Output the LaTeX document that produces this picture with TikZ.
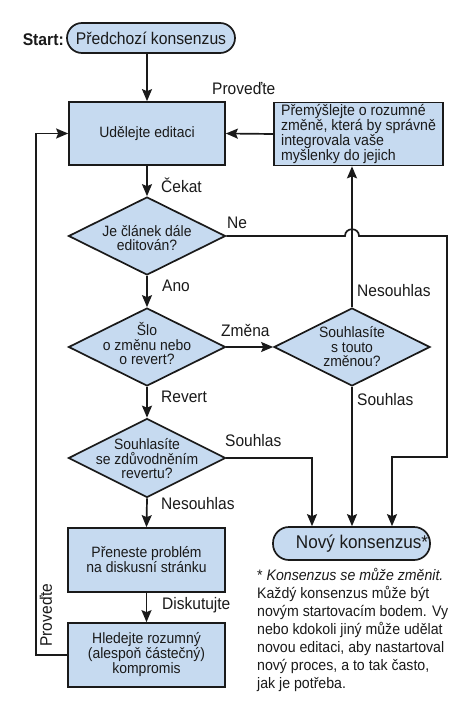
\documentclass[tikz,border=0pt]{standalone}
\usepackage{fontspec}
\setmainfont{Liberation Sans}[FakeStretch=0.93]
\usetikzlibrary{arrows.meta,shapes.geometric}
\definecolor{boxfill}{HTML}{C6DAF0}
\definecolor{ink}{HTML}{1A1A1A}
\begin{document}
\begin{tikzpicture}[x=1pt,y=-1pt,
  every node/.style={text=ink},
  box/.style={draw=ink,fill=boxfill,line width=1.7pt,inner sep=0pt,align=center,font=\fontsize{15}{15}\selectfont},
  dia/.style={draw=ink,fill=boxfill,line width=1.7pt,shape=diamond,inner sep=0pt},
  dtext/.style={align=center,font=\fontsize{15}{14.5}\selectfont,inner sep=0pt},
  lbl/.style={anchor=west,inner sep=0pt,font=\fontsize{16.7}{17}\selectfont},
  fn/.style={anchor=base west,inner sep=0pt,font=\fontsize{15.2}{18}\selectfont},
  conn/.style={draw=ink,line width=1.7pt,-{Stealth[length=12pt,width=10pt,inset=2pt]}},
  wire/.style={draw=ink,line width=1.7pt}]
\useasboundingbox[fill=white] (0,0) rectangle (474,711);

% nodes
\node[box,minimum width=168pt,minimum height=30pt,rounded corners=15pt,font=\fontsize{16.9}{17}\selectfont] (start) at (151,38) {Předchozí konsenzus};
\node[anchor=east,inner sep=0pt,font=\bfseries\fontsize{16.9}{17}\selectfont] (startlbl) at (64,40) {Start:};
\node[box,minimum width=156pt,minimum height=63pt] (edit) at (147,133.5) {Udělejte editaci};
\node[box,minimum width=169pt,minimum height=63pt,align=left,font=\fontsize{15.2}{14}\selectfont] (think) at (358.5,134) {Přemýšlejte o rozumné\\změně, která by správně\\integrovala vaše\\myšlenky do jejich};

\node[dia,minimum width=157pt,minimum height=78pt] (d1) at (147,236) {};
\node[dtext] (d1t) at (147,238) {Je článek dále\\editován?};
\node[dia,minimum width=157pt,minimum height=78pt] (d2) at (147,347) {};
\node[dtext] (d2t) at (147,344) {Šlo\\o změnu nebo\\o revert?};
\node[dia,minimum width=156pt,minimum height=78pt] (d3) at (352,347) {};
\node[dtext] (d3t) at (352,347) {Souhlasíte\\s touto\\změnou?};
\node[dia,minimum width=157pt,minimum height=79pt] (d4) at (147,458) {};
\node[dtext] (d4t) at (147,459) {Souhlasíte\\se zdůvodněním\\revertu?};

\node[box,minimum width=157pt,minimum height=64pt] (move) at (146.5,560) {Přeneste problém\\na diskusní stránku};
\node[box,minimum width=157pt,minimum height=64pt] (comp) at (146.5,655) {Hledejte rozumný\\(alespoň částečný)\\kompromis};

\node[box,minimum width=157pt,minimum height=33pt,rounded corners=16pt] (new) at (351.5,543.5) {};
\node[inner sep=0pt,font=\fontsize{18.4}{19}\selectfont] (newt) at (362,544) {Nový konsenzus*};

% labels
\node[lbl] (l1) at (212,89) {Proveďte};
\node[lbl] (l2) at (161,185) {Čekat};
\node[lbl] (l3) at (227,223) {Ne};
\node[lbl] (l4) at (162,286) {Ano};
\node[lbl] (l5) at (221,330) {Změna};
\node[lbl] (l6) at (357,291) {Nesouhlas};
\node[lbl] (l7) at (161,397) {Revert};
\node[lbl] (l8) at (225,441) {Souhlas};
\node[lbl] (l9) at (357,400) {Souhlas};
\node[lbl] (l10) at (161,504) {Nesouhlas};
\node[lbl] (l11) at (162,605) {Diskutujte};
\node[lbl,anchor=center,rotate=90] (l12) at (46,615) {Proveďte};

% footnote
\node[fn] (fn1) at (257,580) {* \textit{Konsenzus se může změnit.}};
\node[fn] (fn2) at (257,598) {Každý konsenzus může být};
\node[fn] (fn3) at (257,616) {novým startovacím bodem. Vy};
\node[fn] (fn4) at (257,634) {nebo kdokoli jiný může udělat};
\node[fn] (fn5) at (257,652) {novou editaci, aby nastartoval};
\node[fn] (fn6) at (257,670) {nový proces, a to tak často,};
\node[fn] (fn7) at (257,688) {jak je potřeba.};

% helper coordinates
\coordinate (loopx) at (36,0);
\coordinate (souhlx) at (312,0);
\coordinate (hopa) at (345,236);
\coordinate (hopb) at (359,236);
\coordinate (ner) at (447,236);
\coordinate (nebr) at (447,457);
\coordinate (nebl) at (392,457);

% connectors
\draw[conn] (start.south -| edit.north) -- (edit.north);
\draw[conn] (think.west) -- (edit.east);
\draw[conn] (d3.north) -- (d3.north |- think.south);
\draw[conn] (edit.south) -- (d1.north);
\draw[conn] (d1.south) -- (d2.north);
\draw[conn] (d2.east) -- (d3.west);
\draw[conn] (d2.south) -- (d4.north);
\draw[conn] (d4.south) -- (move.north);
\draw[conn] (move.south) -- (comp.north);
\draw[conn] (comp.west) -- (comp.west -| loopx) -- (edit.west -| loopx) -- (edit.west);
\draw[conn] (d4.east) -- (d4.east -| souhlx) -- (souhlx |- new.north);
\draw[conn] (d3.south) -- (d3.south |- new.north);
\draw[conn] (d1.east) -- (hopa) .. controls (345,227) and (359,227) .. (hopb) -- (ner) -- (nebr) -- (nebl) -- (nebl |- new.north);
\end{tikzpicture}
\end{document}
